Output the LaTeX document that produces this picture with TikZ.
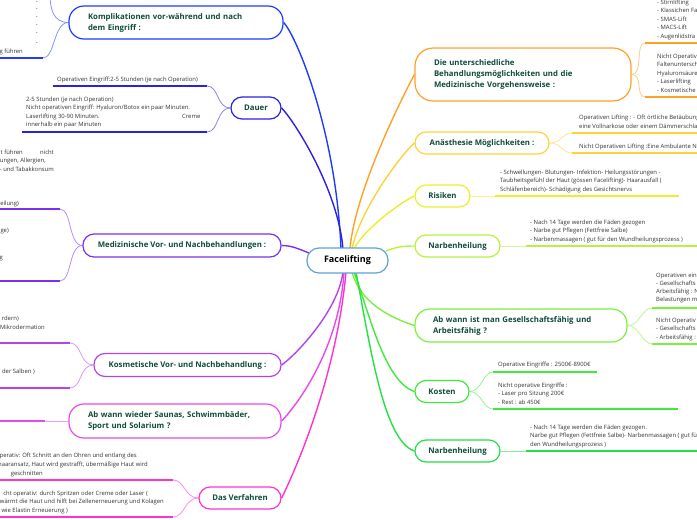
\documentclass[tikz,border=0pt]{standalone}
\usepackage{fontspec}
\setmainfont{Open Sans}
\usetikzlibrary{backgrounds}
\definecolor{headc}{HTML}{0F4C3A}
\definecolor{txtc}{HTML}{333333}
\definecolor{cC}{HTML}{5BA3D9}
\definecolor{cKo}{HTML}{1E3CFF}
\definecolor{cDa}{HTML}{2A22E0}
\definecolor{cMe}{HTML}{7B2FF2}
\definecolor{cKm}{HTML}{B244EE}
\definecolor{cSa}{HTML}{E64AEE}
\definecolor{cVe}{HTML}{FF33CC}
\definecolor{cBe}{HTML}{FFA126}
\definecolor{cAn}{HTML}{FFD23A}
\definecolor{cRi}{HTML}{E8F02C}
\definecolor{cNa}{HTML}{B6F23E}
\definecolor{cGe}{HTML}{7CF03C}
\definecolor{cKs}{HTML}{3EEA3A}
\definecolor{cNb}{HTML}{24E044}
\begin{document}
\begin{tikzpicture}[x=1pt,y=-1pt,
  box/.style={draw=#1, line width=1.2pt, fill=white, rounded corners=11pt, inner sep=0pt,
    font=\fontsize{7.8}{11}\selectfont\bfseries, text=headc, align=center},
  sm/.style={font=\fontsize{5.9}{8.5}\selectfont, text=txtc, inner sep=0pt, anchor=base west},
  sme/.style={sm, anchor=base east},
  conn/.style={draw=#1, line width=1.4pt},
  fork/.style={draw=#1!55, line width=0.8pt},
  ul/.style={draw=#1, line width=1.7pt},
]
\useasboundingbox (0,0) rectangle (697,520);
\clip (0,0) rectangle (697,520);

% ---------- boxes ----------
\node[box=cC, minimum width=81pt, minimum height=25pt, rounded corners=12pt,
      font=\fontsize{9}{10}\selectfont\bfseries, text=black] (fc) at (347.5,260.5) {Facelifting};

\node[box=cKo, minimum width=214pt, minimum height=33pt, rounded corners=15pt, text width=176pt, align=left]
  (k1) at (176,22.5) {Komplikationen vor-während und nach\\dem Eingriff :};
\node[box=cDa, minimum width=50pt, minimum height=22pt] (k2) at (256,108) {Dauer};
\node[box=cMe, minimum width=198pt, minimum height=23pt] (k3) at (182,245.5) {Medizinische Vor- und Nachbehandlungen :};
\node[box=cKm, minimum width=187pt, minimum height=23pt] (k4) at (187.5,365) {Kosmetische Vor- und Nachbehandlung :};
\node[box=cSa, minimum width=212pt, minimum height=34pt, rounded corners=15pt, text width=174pt, align=left]
  (k5) at (175,421) {Ab wann wieder Saunas, Schwimmbäder,\\Sport und Solarium ?};
\node[box=cVe, minimum width=82pt, minimum height=22pt] (k6) at (240,498) {Das Verfahren};

\node[box=cBe, minimum width=216pt, minimum height=53pt, rounded corners=18pt, text width=178pt, align=left]
  (r1) at (523,74.5) {Die unterschiedliche\\Behandlungsmöglichkeiten und die\\Medizinische Vorgehensweise :};
\node[box=cAn, minimum width=134pt, minimum height=22pt] (r2) at (482,143) {Anästhesie Möglichkeiten :};
\node[box=cRi, minimum width=55pt, minimum height=22pt] (r3) at (442.5,196) {Risiken};
\node[box=cNa, minimum width=85pt, minimum height=22pt] (r4) at (457.5,246) {Narbenheilung};
\node[box=cGe, minimum width=212pt, minimum height=33pt, rounded corners=15pt, text width=176pt, align=left]
  (r5) at (521,325.5) {Ab wann ist man Gesellschaftsfähig und\\Arbeitsfähig ?};
\node[box=cKs, minimum width=54pt, minimum height=22pt] (r6) at (442,391.5) {Kosten};
\node[box=cNb, minimum width=85pt, minimum height=22pt] (r7) at (457.5,451) {Narbenheilung};

% ---------- coordinates ----------
\coordinate (sK1) at (341,249);
\coordinate (sK2) at (343,249);
\coordinate (sK3) at (309,253);
\coordinate (sK4) at (343,272);
\coordinate (sK5) at (344,272);
\coordinate (sK6) at (346,272);
\coordinate (sR1) at (350,249);
\coordinate (sR2) at (352,249);
\coordinate (sR3) at (354,249);
\coordinate (sR4) at (386,251);
\coordinate (sR5) at (352,272);
\coordinate (sR6) at (354,272);
\coordinate (sR7) at (356,272);

\coordinate (k1t) at (50,-6);
\coordinate (k1ua) at (-5,58);   \coordinate (k1ub) at (43,58);
\coordinate (k2ua) at (53,86);   \coordinate (k2ub) at (207,86);
\coordinate (k2la) at (22,132);  \coordinate (k2lb) at (207,132);
\coordinate (k3ua) at (-5,209);  \coordinate (k3ub) at (60,209);
\coordinate (k3la) at (-5,281);  \coordinate (k3lb) at (60,281);
\coordinate (k4ua) at (-5,343);  \coordinate (k4ub) at (70,343);
\coordinate (k4la) at (-5,388);  \coordinate (k4lb) at (70,388);
\coordinate (k5ua) at (-5,421);  \coordinate (k5ub) at (45,421);
\coordinate (k6ua) at (-5,480);  \coordinate (k6ub) at (173,480);
\coordinate (k6la) at (-5,517);  \coordinate (k6lb) at (173,517);

\coordinate (r1ua) at (645,43);  \coordinate (r1ub) at (705,43);
\coordinate (r1la) at (645,97);  \coordinate (r1lb) at (705,97);
\coordinate (r2ua) at (572,133); \coordinate (r2ub) at (705,133);
\coordinate (r2la) at (572,153); \coordinate (r2lb) at (705,153);
\coordinate (r3ua) at (495,196); \coordinate (r3ub) at (679,196);
\coordinate (r4ua) at (526,246); \coordinate (r4ub) at (705,246);
\coordinate (r5ua) at (652,308); \coordinate (r5ub) at (705,308);
\coordinate (r5la) at (652,344); \coordinate (r5lb) at (705,344);
\coordinate (r6ua) at (493,372); \coordinate (r6ub) at (597,372);
\coordinate (r6la) at (493,409); \coordinate (r6lb) at (678,409);
\coordinate (r7ua) at (526,451); \coordinate (r7ub) at (705,451);

% ---------- connectors (behind boxes) ----------
\begin{scope}[on background layer]
\draw[conn=cKo] (sK1) .. controls +(-5,-120) and +(12,12) .. (k1.east);
\draw[conn=cDa] (sK2) .. controls +(-5,-60) and +(12,12) .. (k2.east);
\draw[conn=cMe] (sK3) .. controls +(-10,-4) and +(10,0) .. (k3.east);
\draw[conn=cKm] (sK4) .. controls +(-5,40) and +(12,-8) .. (k4.east);
\draw[conn=cSa] (sK5) .. controls +(-5,80) and +(12,-12) .. (k5.east);
\draw[conn=cVe] (sK6) .. controls +(-10,110) and +(10,-20) .. (k6.east);
\draw[conn=cBe] (sR1) .. controls +(5,-60) and +(-8,15) .. (r1.west);
\draw[conn=cAn] (sR2) .. controls +(8,-40) and +(-12,10) .. (r2.west);
\draw[conn=cRi] (sR3) .. controls +(10,-20) and +(-12,5) .. (r3.west);
\draw[conn=cNa] (sR4) .. controls +(10,-4) and +(-12,0) .. (r4.west);
\draw[conn=cGe] (sR5) .. controls +(8,30) and +(-25,-8) .. (r5.west);
\draw[conn=cKs] (sR6) .. controls +(15,40) and +(-30,-10) .. (r6.west);
\draw[conn=cNb] (sR7) .. controls +(15,80) and +(-30,-10) .. (r7.west);

% forks
\draw[fork=cKo] (k1.west) .. controls +(-15,0) and +(0,15) .. (k1t);
\draw[fork=cKo] (k1.west) .. controls +(-15,0) and +(12,0) .. (k1ub);
\draw[fork=cDa] (k2.west) .. controls +(-14,0) and +(12,0) .. (k2ub);
\draw[fork=cDa] (k2.west) .. controls +(-14,0) and +(12,0) .. (k2lb);
\draw[fork=cMe] (k3.west) .. controls +(-14,0) and +(12,0) .. (k3ub);
\draw[fork=cMe] (k3.west) .. controls +(-14,0) and +(12,0) .. (k3lb);
\draw[fork=cKm] (k4.west) .. controls +(-14,0) and +(12,0) .. (k4ub);
\draw[fork=cKm] (k4.west) .. controls +(-14,0) and +(12,0) .. (k4lb);
\draw[fork=cSa] (k5.west) -- (k5ub);
\draw[fork=cVe] (k6.west) .. controls +(-14,0) and +(12,0) .. (k6ub);
\draw[fork=cVe] (k6.west) .. controls +(-14,0) and +(12,0) .. (k6lb);
\draw[fork=cBe] (r1.east) .. controls +(12,0) and +(-10,0) .. (r1ua);
\draw[fork=cBe] (r1.east) .. controls +(12,0) and +(-10,0) .. (r1la);
\draw[fork=cAn] (r2.east) .. controls +(12,0) and +(-10,0) .. (r2ua);
\draw[fork=cAn] (r2.east) .. controls +(12,0) and +(-10,0) .. (r2la);
\draw[fork=cRi] (r3.east) -- (r3ua);
\draw[fork=cNa] (r4.east) -- (r4ua);
\draw[fork=cGe] (r5.east) .. controls +(12,0) and +(-10,0) .. (r5ua);
\draw[fork=cGe] (r5.east) .. controls +(12,0) and +(-10,0) .. (r5la);
\draw[fork=cKs] (r6.east) .. controls +(12,0) and +(-10,0) .. (r6ua);
\draw[fork=cKs] (r6.east) .. controls +(12,0) and +(-10,0) .. (r6la);
\draw[fork=cNb] (r7.east) -- (r7ua);
\end{scope}

% underlines
\draw[ul=cKo] (k1ua) -- (k1ub);
\draw[ul=cDa] (k2ua) -- (k2ub);
\draw[ul=cDa] (k2la) -- (k2lb);
\draw[ul=cMe] (k3ua) -- (k3ub);
\draw[ul=cMe] (k3la) -- (k3lb);
\draw[ul=cKm] (k4ua) -- (k4ub);
\draw[ul=cKm] (k4la) -- (k4lb);
\draw[ul=cSa] (k5ua) -- (k5ub);
\draw[ul=cVe] (k6ua) -- (k6ub);
\draw[ul=cVe] (k6la) -- (k6lb);
\draw[ul=cBe] (r1ua) -- (r1ub);
\draw[ul=cBe] (r1la) -- (r1lb);
\draw[ul=cAn] (r2ua) -- (r2ub);
\draw[ul=cAn] (r2la) -- (r2lb);
\draw[ul=cRi] (r3ua) -- (r3ub);
\draw[ul=cNa] (r4ua) -- (r4ub);
\draw[ul=cGe] (r5ua) -- (r5ub);
\draw[ul=cGe] (r5la) -- (r5lb);
\draw[ul=cKs] (r6ua) -- (r6ub);
\draw[ul=cKs] (r6la) -- (r6lb);
\draw[ul=cNb] (r7ua) -- (r7ub);

% ---------- texts left ----------
\foreach \yy [count=\i] in {3,10,18.5,26.5,34.5,44.5}
  \node[sme] (k1d\i) at (38,\yy) {-};
\node[sme] (k1g) at (23,53) {g führen};

\node[sm] (k2a) at (57,81) {Operativen Eingriff:2-5 Stunden (je nach Operation)};
\foreach \t [count=\i] in {{2-5 Stunden (je nach Operation)},
   {Nicht operativen Eingriff: Hyaluron/Botox ein paar Minuten.},
   {Laserlifting 30-90 Minuten.},
   {innerhalb ein paar Minuten}}
  \node[sm] (k2b\i) at (26,92.5+8.5*\i) {\t};
\node[sm] (k2c) at (182,118) {Creme};

\node[sme] (k3a) at (23,154) {t führen};
\node[sme] (k3b) at (54,154) {nicht};
\node[sme] (k3c) at (46,162.5) {ungen, Allergien,};
\node[sme] (k3d) at (54,171) {- und Tabakkonsum};
\node[sme] (k3e) at (19,205) {eilung)};
\node[sme] (k3f) at (9,232) {ge)};
\node[sme] (k3g) at (3,259) {g};

\node[sme] (k4a) at (19,320) {rdern)};
\node[sme] (k4b) at (45,329) {Mikrodermation};
\node[sme] (k4c) at (35,373) {der Salben )};

\node[sme] (k6a) at (137,457) {perativ: Oft Schnitt an den Ohren und entlang des};
\node[sme] (k6b) at (148,466) {haaransatz, Haut wird gestrafft, übermäßige Haut wird};
\node[sme] (k6c) at (43,475) {geschnitten};
\node[sme] (k6d) at (148,495) {cht operativ: durch Spritzen oder Creme oder Laser (};
\node[sme] (k6e) at (164,503.5) {wärmt die Haut und hilft bei Zellenerneuerung und Kolagen};
\node[sme] (k6f) at (68,512) {wie Elastin Erneuerung )};

% ---------- texts right ----------
\foreach \t [count=\i] in {{- Stirnlifting},{- Klassichen Fa},{- SMAS-Lift},{- MACS-Lift},{- Augenlidstra}}
  \node[sm] (r1u\i) at (657,-4.5+8.5*\i) {\t};
\foreach \t [count=\i] in {{Nicht Operativ},{Faltenuntersch},{Hyaluronsäure},{- Laserlifting},{- Kosmetische}}
  \node[sm] (r1l\i) at (657,49.5+8.5*\i) {\t};

\node[sm] (r2a) at (579,119) {Operativen Lifting : - Oft örtliche Betäubung};
\node[sm] (r2b) at (579,128) {eine Vollnarkose oder einem Dämmerschla};
\node[sm] (r2c) at (579,148) {Nicht Operativen Lifting :Eine Ambulante N};

\foreach \t [count=\i] in {{- Schwellungen- Blutungen- Infektion- Heilungsstörungen -},
   {Taubheitsgefühl der Haut (gössen Facelifting)- Haarausfall (},
   {Schläfenbereich)- Schädigung des Gesichtsnervs}}
  \node[sm] (r3t\i) at (500,165.5+8.5*\i) {\t};

\foreach \t [count=\i] in {{- Nach 14 Tage werden die Fäden gezogen},
   {- Narbe gut Pflegen (Fettfreie Salbe)},
   {- Narbenmassagen ( gut für den Wundheilungsprozess )}}
  \node[sm] (r4t\i) at (530,215.5+8.5*\i) {\t};

\foreach \t [count=\i] in {{Operativen ein},{- Gesellschafts},{Arbeitsfähig : N},{Belastungen m}}
  \node[sm] (r5u\i) at (656,268.7+8.3*\i) {\t};
\foreach \t [count=\i] in {{Nicht Operativ},{- Gesellschafts},{- Arbeitsfähig : }}
  \node[sm] (r5l\i) at (656,313.5+8.5*\i) {\t};

\node[sm] (r6a) at (498,366) {Operative Eingriffe : 2500€-8900€};
\foreach \t [count=\i] in {{Nicht operative Eingriffe :},{- Laser pro Sitzung 200€},{- Rest : ab 450€}}
  \node[sm] (r6l\i) at (498,378.5+8.5*\i) {\t};

\foreach \t [count=\i] in {{- Nach 14 Tage werden die Fäden gezogen.},
   {Narbe gut Pflegen (Fettfreie Salbe)- Narbenmassagen ( gut für},
   {den Wundheilungsprozess )}}
  \node[sm] (r7t\i) at (530,420.5+8.5*\i) {\t};
\end{tikzpicture}
\end{document}
